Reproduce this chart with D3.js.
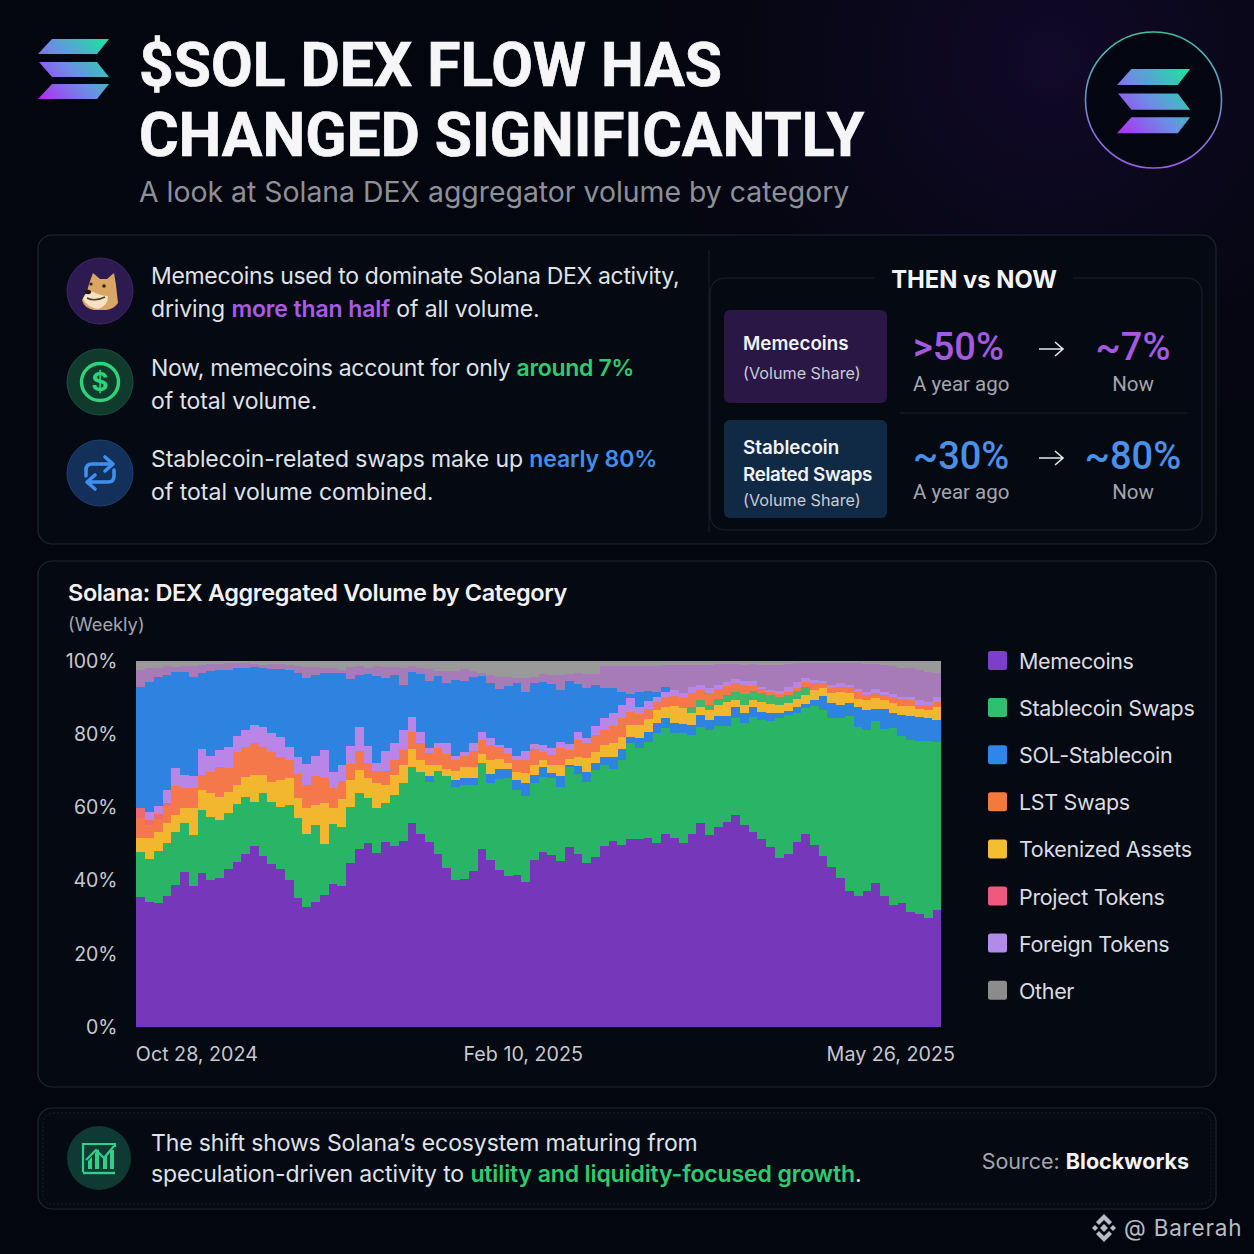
<!DOCTYPE html>
<html>

<head>
    <meta charset="utf-8" />
    <title>SOL DEX flow</title>
    <script src="https://d3js.org/d3.v7.min.js"></script>
    <style>
        html, body { margin: 0; padding: 0; background: #04060f; }
        svg { display: block; }
        text { font-family: Inter, Roboto, sans-serif; }
    </style>
</head>

<body>
    <svg id="canvas" width="1254" height="1254"></svg>

    <script>

        // shares of weekly volume (%)
        var memecoins = [
            35.6,34.2,34.0,35.8,38.8,42.2,38.5,42.2,40.1,40.8,
            43.1,45.2,47.2,49.5,46.8,44.7,43.1,40.1,35.4,32.9,
            34.0,36.0,39.2,38.5,44.7,48.8,50.3,47.7,50.4,49.5,
            50.8,55.8,52.7,50.6,47.2,43.3,40.1,40.4,42.7,48.7,
            45.6,42.9,41.2,41.6,39.5,45.6,47.7,47.0,45.4,49.1,
            47.4,44.7,46.5,49.4,50.9,49.7,51.5,51.3,51.5,50.2,
            52.7,51.5,50.3,52.6,55.8,52.4,54.5,55.9,57.9,55.2,
            53.4,51.3,49.3,46.3,47.2,50.6,52.7,49.7,46.7,43.8,
            40.6,37.2,35.8,37.2,39.2,35.8,33.3,33.9,31.5,31.0,
            29.9,32.1
        ];
        var stablecoinSwaps = [
            12.3,11.6,14.0,14.4,14.3,13.6,14.1,17.2,17.3,15.8,
            15.4,15.8,15.7,12.0,17.2,16.9,17.0,20.5,21.8,19.8,
            21.1,14.1,16.4,16.2,15.5,15.3,12.1,12.3,10.7,13.8,
            15.8,15.3,17.0,16.4,22.8,25.2,25.5,25.7,23.4,23.3,
            21.0,25.1,26.7,23.1,23.6,21.0,20.7,21.0,20.2,22.0,
            21.7,22.3,23.7,22.1,19.5,23.2,26.0,24.8,26.4,30.1,
            28.9,28.7,29.9,27.1,26.2,28.7,27.5,26.3,26.4,28.0,
            31.4,32.5,34.4,38.0,38.0,35.1,34.3,37.8,39.9,40.5,
            43.7,47.6,46.3,44.1,44.2,45.8,48.3,45.6,46.9,47.2,
            48.3,45.8
        ];
        // the blue band sits on the green one in the later weeks...
        var solStablecoin = [
            0,0,0,0,0,0,0,0,0,0,
            0,0,0,0,0,0,0,0,0,0,
            0,0,0,0,0,0,0,0,0,0,
            0,0,0,1.7,0,0,2.0,1.8,1.8,0,
            2.6,2.5,2.7,2.7,3.5,2.3,2.7,1.4,2.9,0.5,
            2.2,2.7,2.1,2.3,3.3,2.9,1.6,2.7,2.7,2.7,
            2.7,2.9,2.6,2.7,3.2,2.9,2.7,2.7,3.2,2.7,
            2.7,2.0,2.0,1.4,1.2,1.6,1.2,1.8,3.8,4.3,
            3.6,3.6,5.3,5.5,3.4,5.5,4.1,5.7,6.7,6.6,
            6.1,6.1
        ];
        var tokenizedAssets = [
            3.8,5.7,5.3,5.6,4.8,3.9,7.4,5.3,6.4,6.2,
            5.7,5.2,5.5,7.3,4.8,5.5,7.5,7.3,5.3,7.1,
            5.5,11.1,4.1,7.6,7.3,6.3,5.5,6.6,5.0,5.5,
            5.0,4.7,3.2,2.8,1.5,1.8,2.4,3.2,3.2,2.6,
            3.8,3.0,1.4,2.3,2.9,2.7,1.8,2.3,3.0,1.5,
            2.6,3.6,2.9,3.2,3.8,3.3,3.4,3.6,3.6,3.6,
            3.2,4.4,4.3,3.4,2.3,2.6,3.2,3.9,1.8,2.1,
            1.8,2.7,2.5,2.3,2.1,2.1,2.4,2.7,2.1,2.6,
            3.6,2.9,2.2,2.6,3.0,2.3,2.7,2.3,2.5,2.3,
            2.3,3.5
        ];
        // small green patches that show above the yellow band
        var stablecoinPatch = [
            0,0,0,0,0,0,0,0,0,0,
            0,0,0,0,0,0,0,0,0,0,
            0,0,0,0,0,0,0,0,0,0,
            0,0,0,0,0,0,0,0,0,0,
            0,0,0,0,0,0,0,0,0,0,
            0,0,0,0,0,0,0,0,0,0,
            0,0,0,1.6,1.8,1.4,1.5,1.8,2.3,3.2,
            2.6,2.7,2.5,2.3,2.2,2.2,2.3,0,0,0,
            0,0,0,0,0,0,0,0,0,0,
            0,0
        ];
        var lstSwaps = [
            5.5,3.5,3.5,4.5,7.7,5.5,5.5,4.1,5.9,8.4,
            6.7,9.1,8.2,8.8,7.6,8.2,6.2,5.0,6.6,6.4,
            7.9,6.7,5.5,5.0,4.4,5.0,4.1,3.5,3.9,4.1,
            4.1,4.6,4.6,3.5,4.6,4.2,2.9,2.9,4.1,3.8,
            4.1,3.2,2.7,3.2,3.5,4.3,2.3,2.7,4.6,2.6,
            4.6,4.1,4.6,4.1,4.7,5.2,3.6,3.0,2.5,2.3,
            2.7,2.9,2.7,3.8,2.9,3.4,2.7,2.5,2.3,2.3,
            1.3,0.9,0.9,0.7,0.9,0.9,1.4,1.8,1.4,1.4,
            1.4,1.5,1.8,1.4,1.5,1.4,1.8,2.0,1.8,0.9,
            1.4,1.4
        ];
        var projectTokens = [
            2.8,1.5,1.5,1.0,0,0,0,0,0,0,
            0,0,0,0,0,0,0,0,0,0,
            0,0,0,0,0,0,0,0,0,0,
            0,0,0,0,0,0,0,0,0,0,
            0,0,0,0,0,0,0,0,0,0,
            0,0,0,0,0,0,0,0,0,0,
            0,0,0,0,0,0,0,0,0,0,
            0,0,0,0,0,0,0,0,0,0,
            0,0,0,0,0,0,0,0,0,0,
            0,0
        ];
        var foreignTokens = [
            0,2.3,2.1,3.5,5.0,3.6,3.1,7.1,4.4,4.6,
            5.6,4.4,4.6,4.7,5.6,5.2,5.3,3.6,4.8,5.6,
            5.5,7.7,4.4,4.3,5.0,6.7,4.8,2.0,5.2,4.6,
            5.5,4.3,3.0,1.1,1.4,3.1,1.1,1.2,2.3,2.1,
            1.8,0.5,1.5,1.1,2.5,1.4,1.8,1.8,1.8,1.6,
            2.3,1.6,2.5,3.2,3.5,3.6,3.9,2.0,2.4,1.2,
            1.4,1.6,1.4,1.5,1.2,1.2,1.2,1.2,1.2,1.2,
            1.2,0.7,0.6,0.9,1.2,1.8,0.9,0.7,0.5,0.9,
            0.9,0.6,0.9,0.9,0.9,0.9,0.7,0.7,0.9,1.4,
            0.9,1.2
        ];
        // ...and above the others in the earlier weeks
        var solStablecoinTop = [
            33.0,35.5,35.1,31.4,26.1,28.2,27.0,20.7,23.2,21.9,
            21.0,18.4,17.1,15.9,15.9,17.3,18.6,21.0,23.0,23.5,
            22.1,21.0,27.2,25.1,18.1,14.1,19.6,23.9,20.0,18.7,
            12.3,12.3,15.9,18.5,18.4,16.2,20.8,19.4,18.0,15.4,
            15.0,15.2,16.9,19.9,15.9,16.7,17.3,17.5,14.1,17.2,
            12.9,13.4,11.2,8.2,6.8,3.6,1.1,4.1,2.7,1.5,
            1.2,0,0,0,0,0,0,0,0,0,
            0,0,0,0,0,0,0,0,0,0,
            0,0,0,0,0,0,0,0,0,0,
            0,0
        ];
        var foreignTop = [
            4.6,3.6,2.5,2.3,1.6,1.4,3.1,2.3,1.8,1.6,
            2.0,1.5,1.3,0.9,0.9,1.5,1.5,1.4,1.8,3.0,
            2.1,1.4,1.2,0.9,3.3,2.5,1.5,2.6,3.0,2.1,
            4.6,1.4,1.5,3.1,1.5,3.5,2.6,3.1,1.8,0.7,
            2.3,3.5,2.6,1.4,3.9,1.8,2.1,2.6,4.1,1.9,
            3.0,3.9,3.0,5.9,6.1,7.0,7.5,7.0,6.7,7.1,
            6.1,6.8,7.7,6.1,5.5,6.4,5.6,4.7,4.0,4.3,
            4.7,5.9,6.7,7.0,6.3,5.0,4.1,4.7,5.0,5.9,
            5.5,5.9,7.1,7.6,6.9,7.3,7.5,7.7,7.7,8.2,
            8.2,6.7
        ];
        var other = [
            2.5,2.0,2.0,1.5,1.5,1.5,1.4,1.1,0.8,0.8,
            0.5,0.5,0.5,0.8,1.1,0.8,0.8,1.1,1.4,1.7,
            1.7,2.0,2.0,2.5,1.7,1.4,2.0,1.5,1.7,1.7,
            2.0,1.5,2.0,2.3,2.6,2.6,2.6,2.3,2.6,3.4,
            3.8,4.3,4.3,4.7,4.7,4.3,3.6,3.8,3.8,3.6,
            3.4,3.6,3.6,1.5,1.4,1.4,1.4,1.4,1.4,1.3,
            1.1,1.1,1.1,1.1,1.1,1.1,0.9,0.9,0.9,1.1,
            0.9,1.1,1.1,1.1,0.9,0.6,0.6,0.6,0.6,0.6,
            0.6,0.6,0.6,0.8,0.8,1.1,1.5,2.0,2.0,2.5,
            2.9,3.2
        ];

        var legendNames = ["Memecoins", "Stablecoin Swaps", "SOL-Stablecoin", "LST Swaps", "Tokenized Assets", "Project Tokens", "Foreign Tokens", "Other"];
        var legendColors = ["#7d3fcb", "#2fc06f", "#2f86ea", "#f47a3c", "#f2bf30", "#f0587f", "#b48ae8", "#8c8c8c"];

        var yTicks = [0, 0.2, 0.4, 0.6, 0.8, 1];
        var xTickWeeks = [6.9, 44.2, 86.2];
        var xTickLabels = ["Oct 28, 2024", "Feb 10, 2025", "May 26, 2025"];

        var layers = [
            { values: memecoins, color: "#7737bb" },
            { values: stablecoinSwaps, color: "#2ab465" },
            { values: solStablecoin, color: "#2e82e0" },
            { values: tokenizedAssets, color: "#f3b62f" },
            { values: stablecoinPatch, color: "#3fb86a" },
            { values: lstSwaps, color: "#f4784a" },
            { values: projectTokens, color: "#ee6a72" },
            { values: foreignTokens, color: "#b985e6" },
            { values: solStablecoinTop, color: "#2e82e0" },
            { values: foreignTop, color: "#a67bb8" },
            { values: other, color: "#9a9a9a" }
        ];

        var svg = d3.select("#canvas");
        var defs = svg.append("defs");

        // background
        var glow = defs.append("radialGradient").attr("id", "glow")
            .attr("gradientUnits", "userSpaceOnUse")
            .attr("cx", 1050).attr("cy", 60).attr("r", 520);
        glow.append("stop").attr("offset", 0).attr("stop-color", "#1b0b3c").attr("stop-opacity", 0.6);
        glow.append("stop").attr("offset", 1).attr("stop-color", "#04060f").attr("stop-opacity", 0);

        svg.append("rect").attr("width", 1254).attr("height", 1254).attr("fill", "#04060f");
        svg.append("rect").attr("width", 1254).attr("height", 1254).attr("fill", "url(#glow)");

        function addLogoGradient(id) {
            var grad = defs.append("linearGradient").attr("id", id)
                .attr("gradientUnits", "userSpaceOnUse")
                .attr("x1", 0).attr("y1", 60).attr("x2", 71).attr("y2", 0);
            grad.append("stop").attr("offset", 0).attr("stop-color", "#b02cf0");
            grad.append("stop").attr("offset", 0.45).attr("stop-color", "#6f8ae8");
            grad.append("stop").attr("offset", 1).attr("stop-color", "#16e89a");
        }
        addLogoGradient("logoGrad");

        // three bars of the solana mark, 71 wide and 60 high before scaling
        function drawLogo(x, y, sx, sy) {
            var g = svg.append("g").attr("transform", "translate(" + x + "," + y + ") scale(" + sx + "," + sy + ")");
            ["M14 0H71L59 15H0Z", "M1 23H59L71 38H14Z", "M14 45H71L59 60H0Z"].forEach(function (p) {
                g.append("path").attr("d", p).attr("fill", "url(#logoGrad)");
            });
        }

        function addText(parent, x, y, size, weight, color, parts, anchor, spacing) {
            var t = parent.append("text").attr("x", x).attr("y", y)
                .attr("font-size", size).attr("font-weight", weight).attr("fill", color)
                .attr("text-anchor", anchor || "start")
                .attr("letter-spacing", spacing || 0);
            if (typeof parts === "string") {
                t.text(parts);
            } else {
                parts.forEach(function (p) {
                    var s = t.append("tspan").text(p.text);
                    if (p.color) s.attr("fill", p.color);
                    if (p.weight) s.attr("font-weight", p.weight);
                });
            }
            return t;
        }

        function panel(x, y, w, h) {
            svg.append("rect").attr("x", x).attr("y", y).attr("width", w).attr("height", h).attr("rx", 14)
                .attr("fill", "#050912").attr("stroke", "#1f2733").attr("stroke-width", 1.2);
        }

        // header
        drawLogo(38, 39, 1, 1);
        addText(svg, 139, 86, 60.5, 700, "#f6f6f8", "$SOL DEX FLOW HAS").style("font-family", "Roboto")
            .attr("stroke", "#f6f6f8").attr("stroke-width", 0.7);
        addText(svg, 139, 156, 60.5, 700, "#f6f6f8", "CHANGED SIGNIFICANTLY").style("font-family", "Roboto")
            .attr("stroke", "#f6f6f8").attr("stroke-width", 0.7);
        addText(svg, 139, 202, 28.4, 400, "#8d9099", "A look at Solana DEX aggregator volume by category");

        var ringGrad = defs.append("linearGradient").attr("id", "ringGrad")
            .attr("x1", 0).attr("y1", 0).attr("x2", 0).attr("y2", 1);
        ringGrad.append("stop").attr("offset", 0).attr("stop-color", "#3fc0a0");
        ringGrad.append("stop").attr("offset", 1).attr("stop-color", "#9a5ce0");
        svg.append("circle").attr("cx", 1153.5).attr("cy", 100).attr("r", 68)
            .attr("fill", "#030510").attr("stroke", "url(#ringGrad)").attr("stroke-width", 1.6);
        drawLogo(1117, 69, 1.03, 1.07);

        // top panel
        panel(38, 235, 1178, 309);

        svg.append("circle").attr("cx", 100).attr("cy", 291).attr("r", 33).attr("fill", "#2d1a50").attr("stroke", "#3c2668");
        var doge = svg.append("g");
        doge.append("path").attr("d", "M89 284L93 273L100 279H107L114 273L116 285L118 303Q114 309 106 310H94Q84 308 82 300L85 295Q88 290 89 284Z").attr("fill", "#d9a763");
        doge.append("path").attr("d", "M83 299Q85 291 93 292Q101 296 108 296Q108 306 98 309Q87 307 83 299Z").attr("fill", "#f3e2c4");
        doge.append("circle").attr("cx", 91).attr("cy", 284).attr("r", 1.6).attr("fill", "#3a2412");
        doge.append("circle").attr("cx", 104).attr("cy", 286).attr("r", 1.8).attr("fill", "#3a2412");
        doge.append("ellipse").attr("cx", 88).attr("cy", 292).attr("rx", 3).attr("ry", 2.2).attr("fill", "#24160c");
        doge.append("path").attr("d", "M87 298Q95 302 105 297").attr("fill", "none").attr("stroke", "#5a3a1c").attr("stroke-width", 1.4);

        svg.append("circle").attr("cx", 100).attr("cy", 382).attr("r", 33).attr("fill", "#0f3a2c").attr("stroke", "#1c5040");
        svg.append("circle").attr("cx", 100).attr("cy", 382).attr("r", 18.5).attr("fill", "none").attr("stroke", "#2ed47a").attr("stroke-width", 3.4);
        addText(svg, 100, 391, 26, 700, "#2ed47a", "$", "middle");

        svg.append("circle").attr("cx", 100).attr("cy", 473).attr("r", 33).attr("fill", "#12305a").attr("stroke", "#1f4272");
        svg.append("path").attr("d", "M86 476V470Q86 464 92 464H112M105 457L113 464L105 471M114 470V476Q114 482 108 482H88M95 475L87 482L95 489")
            .attr("fill", "none").attr("stroke", "#3f8fef").attr("stroke-width", 3.6)
            .attr("stroke-linecap", "round").attr("stroke-linejoin", "round");

        var bodyColor = "#dfe2e8";
        addText(svg, 151, 284, 23, 400, bodyColor, "Memecoins used to dominate Solana DEX activity,", "start", -0.33);
        addText(svg, 151, 317, 23, 400, bodyColor, [{ text: "driving " }, { text: "more than half", color: "#a95be8", weight: 600 }, { text: " of all volume." }], "start", -0.12);
        addText(svg, 151, 376, 23, 400, bodyColor, [{ text: "Now, memecoins account for only " }, { text: "around 7%", color: "#2ecc71", weight: 600 }], "start", -0.33);
        addText(svg, 151, 409, 23, 400, bodyColor, "of total volume.", "start", -0.12);
        addText(svg, 151, 467, 23, 400, bodyColor, [{ text: "Stablecoin-related swaps make up " }, { text: "nearly 80%", color: "#3f8fef", weight: 600 }], "start", -0.12);
        addText(svg, 151, 500, 23, 400, bodyColor, "of total volume combined.");

        // then vs now
        svg.append("line").attr("x1", 709).attr("x2", 709).attr("y1", 250).attr("y2", 532).attr("stroke", "#1a212c");
        svg.append("rect").attr("x", 710).attr("y", 278).attr("width", 492).attr("height", 252).attr("rx", 14)
            .attr("fill", "#050912").attr("stroke", "#1b2430");
        svg.append("rect").attr("x", 875).attr("y", 270).attr("width", 198).attr("height", 16).attr("fill", "#050912");
        addText(svg, 974, 288, 23.8, 700, "#f4f4f6", "THEN vs NOW", "middle");

        svg.append("rect").attr("x", 724).attr("y", 310).attr("width", 163).attr("height", 93).attr("rx", 6).attr("fill", "#2a1745");
        svg.append("rect").attr("x", 724).attr("y", 420).attr("width", 163).attr("height", 98).attr("rx", 6).attr("fill", "#102a45");
        addText(svg, 743, 350, 18.8, 600, "#f2f2f5", "Memecoins");
        addText(svg, 743, 379, 16.2, 400, "#c9cad6", "(Volume Share)");
        addText(svg, 743, 454, 18.8, 600, "#f2f2f5", "Stablecoin");
        addText(svg, 743, 481, 18.8, 600, "#f2f2f5", "Related Swaps", "start", -0.35);
        addText(svg, 743, 506, 16.2, 400, "#c9cad6", "(Volume Share)");

        svg.append("line").attr("x1", 900).attr("x2", 1187).attr("y1", 413).attr("y2", 413).attr("stroke", "#1a212c");

        addText(svg, 913, 360, 38, 500, "#a35ae0", ">50%").style("font-family", "Roboto");
        addText(svg, 913, 391, 20.5, 400, "#a3a6ae", "A year ago").style("font-family", "Roboto");
        addText(svg, 1133, 360, 38, 500, "#a35ae0", "~7%", "middle").style("font-family", "Roboto");
        addText(svg, 1133, 391, 20.5, 400, "#a3a6ae", "Now", "middle").style("font-family", "Roboto");
        addText(svg, 913, 469, 38, 500, "#4a90e8", "~30%").style("font-family", "Roboto");
        addText(svg, 913, 499, 20.5, 400, "#a3a6ae", "A year ago").style("font-family", "Roboto");
        addText(svg, 1133, 469, 38, 500, "#4a90e8", "~80%", "middle").style("font-family", "Roboto");
        addText(svg, 1133, 499, 20.5, 400, "#a3a6ae", "Now", "middle").style("font-family", "Roboto");

        [349, 458].forEach(function (ay) {
            svg.append("path").attr("d", "M1039 " + ay + "H1063M1055 " + (ay - 7) + "L1063 " + ay + "L1055 " + (ay + 7))
                .attr("fill", "none").attr("stroke", "#e6e7ea").attr("stroke-width", 1.6);
        });

        // chart panel
        panel(38, 561, 1178, 526);
        addText(svg, 68, 601, 23.5, 600, "#f2f2f5", "Solana: DEX Aggregated Volume by Category", "start", -0.39);
        addText(svg, 68, 631, 18.3, 400, "#a3a6ae", "(Weekly)");

        var weeks = d3.range(memecoins.length);
        var x = d3.scaleBand().domain(weeks).range([136, 941]);
        var y = d3.scaleLinear().domain([0, 1]).range([1027, 661]);
        var xTime = d3.scaleLinear().domain([0, weeks.length]).range([136, 941]);

        var stack = d3.stack()
            .keys(d3.range(layers.length))
            .value(function (d, k) { return layers[k].values[d]; })
            .offset(d3.stackOffsetExpand);

        svg.append("g").selectAll("g")
            .data(stack(weeks))
            .enter().append("g")
            .attr("fill", function (s) { return layers[s.key].color; })
            .selectAll("rect")
            .data(function (s) { return s; })
            .enter().append("rect")
            .attr("x", function (d) { return x(d.data); })
            .attr("width", x.bandwidth() + 0.4)
            .attr("y", function (d) { return y(d[1]); })
            .attr("height", function (d) { return y(d[0]) - y(d[1]); })
            .attr("shape-rendering", "crispEdges");

        var yAxis = d3.axisLeft(y).tickValues(yTicks).tickFormat(d3.format(".0%")).tickSize(0).tickPadding(0);
        var yG = svg.append("g").attr("transform", "translate(117.5,0)").call(yAxis);
        yG.select(".domain").remove();
        yG.selectAll("text").attr("font-size", 19.5).attr("fill", "#c6c9d0").style("font-family", "Inter, Roboto, sans-serif");

        var xAxis = d3.axisBottom(xTime).tickValues(xTickWeeks)
            .tickFormat(function (d) { return xTickLabels[xTickWeeks.indexOf(d)]; })
            .tickSize(0).tickPadding(0);
        var xG = svg.append("g").attr("transform", "translate(0,1047)").call(xAxis);
        xG.select(".domain").remove();
        xG.selectAll("text").attr("font-size", 19.7).attr("fill", "#c6c9d0").style("font-family", "Inter, Roboto, sans-serif");

        var legend = svg.append("g").selectAll("g")
            .data(legendNames)
            .enter().append("g")
            .attr("transform", function (d, i) { return "translate(988," + (651 + i * 47.1) + ")"; });
        legend.append("rect").attr("width", 19).attr("height", 19).attr("rx", 2.5)
            .attr("fill", function (d, i) { return legendColors[i]; });
        legend.append("text").attr("x", 31).attr("y", 18)
            .attr("font-size", 21.5).attr("letter-spacing", -0.35).attr("fill", "#d9dce2")
            .text(function (d) { return d; });

        // bottom panel
        panel(38, 1108, 1178, 101);
        svg.append("rect").attr("x", 43).attr("y", 1113).attr("width", 1168).attr("height", 91).attr("rx", 10)
            .attr("fill", "none").attr("stroke", "#1a212c").attr("stroke-dasharray", "2 2");

        svg.append("circle").attr("cx", 99).attr("cy", 1158).attr("r", 32).attr("fill", "#0e3a33");
        svg.append("path").attr("d", "M115 1147V1144H83V1172").attr("fill", "none").attr("stroke", "#2fd08a").attr("stroke-width", 2.2);
        svg.append("path").attr("d", "M83 1173H115").attr("stroke", "#2fd08a").attr("stroke-width", 2.4);
        svg.append("path").attr("d", "M88 1169V1161L92 1157V1169ZM95 1169V1153L99 1149V1169ZM103 1169V1159L107 1155V1169ZM110 1169V1150H114V1169Z").attr("fill", "#2fd08a");
        svg.append("path").attr("d", "M86 1160L96 1150L104 1158L114 1146").attr("fill", "none").attr("stroke", "#2fd08a").attr("stroke-width", 2.2);

        addText(svg, 151, 1151, 23, 400, bodyColor, "The shift shows Solana\u2019s ecosystem maturing from", "start", -0.12);
        addText(svg, 151, 1182, 23, 400, bodyColor, [{ text: "speculation-driven activity to " }, { text: "utility and liquidity-focused growth", color: "#2ecc71", weight: 600 }, { text: "." }], "start", -0.12);
        addText(svg, 1189, 1169, 21.5, 400, "#a3a6ae", [{ text: "Source: " }, { text: "Blockworks", color: "#f4f4f6", weight: 700 }], "end");

        // watermark
        var bn = svg.append("g").attr("fill", "#b8bcc4");
        ["M1104 1214L1112 1222L1109 1225L1104 1220L1099 1225L1096 1222Z",
            "M1104 1242L1112 1234L1109 1231L1104 1236L1099 1231L1096 1234Z",
            "M1104 1224L1108 1228L1104 1232L1100 1228Z",
            "M1095 1225L1098 1228L1095 1231L1092 1228Z",
            "M1113 1225L1116 1228L1113 1231L1110 1228Z"].forEach(function (p) {
            bn.append("path").attr("d", p);
        });
        addText(svg, 1124, 1236, 22.5, 400, "#b8bcc4", "@ Barerah", "start", 0.8);

    </script>

</body>

</html>
